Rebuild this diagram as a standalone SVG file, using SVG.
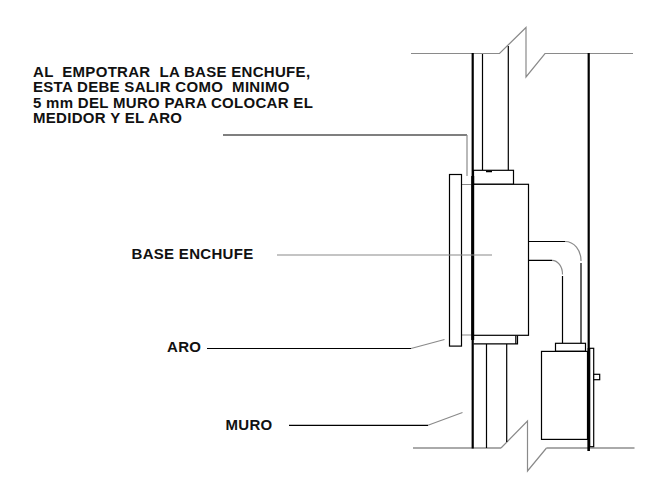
<svg xmlns="http://www.w3.org/2000/svg" width="658" height="500" viewBox="0 0 658 500">
<style>
text{font-family:"Liberation Sans",Arial,sans-serif;font-weight:bold;font-size:15px;letter-spacing:.3px;fill:#111;white-space:pre}
.l{fill:none;stroke:#000;stroke-width:1.2}
.g{fill:none;stroke:#8a8a8a;stroke-width:1.2}
.h{fill:none;stroke:#aaa;stroke-width:2}
.w{fill:none;stroke:#000;stroke-width:2.2}
.t{fill:none;stroke:#000;stroke-width:3}
.b{fill:#fff;stroke:#000;stroke-width:1.2}
</style>
<rect width="658" height="500" fill="#fff"/>
<g id="muro">
<path class="g" d="M411 53.5H499.5L526 27.5V77L545 53.5H633"/>
<path class="h" d="M413 448H501"/>
<path class="h" d="M546.5 448H634.5"/>
<path class="g" d="M501 448L527.5 421V471L546.5 448"/>
<path class="w" d="M472.7 53V448.5M588.7 53V451"/>
<path class="l" d="M482.5 54V170M508.3 46V170M486.5 344V448M506.7 344V442"/>
</g>
<g id="base-enchufe">
<path class="g" d="M461.5 184.5H473M461.5 335H473"/>
<rect class="b" x="473.5" y="170.3" width="40" height="14"/>
<path class="t" d="M486 171.5H492" style="stroke-width:1.5"/>
<path class="l" d="M473.5 343.8H517.5V335.5M515.8 335.5V343.8"/>
<rect class="b" x="472.5" y="184.3" width="56" height="151"/>
<path class="t" d="M472.7 176V340"/>
</g>
<g id="aro"><rect class="b" x="449.5" y="174.5" width="12" height="171.6"/></g>
<g id="tuberia">
<path class="l" d="M528.5 241.5H565"/>
<path class="g" d="M565 241.5A16 19 0 0 1 581 261"/>
<path class="l" d="M581 263V343M528.5 260.3H552"/>
<path class="g" d="M552 260.3A10.5 14 0 0 1 562.5 274.5"/>
<path class="l" d="M562.5 276V343"/>
</g>
<g id="medidor">
<rect class="b" x="555.5" y="343.3" width="30" height="8"/>
<rect class="b" x="541.5" y="351.4" width="46" height="88"/>
<rect class="b" x="589.7" y="348.3" width="4" height="98.4"/>
<rect class="b" x="593.7" y="374.3" width="6" height="5.4"/>
<path class="w" d="M588.7 348V451"/>
</g>
<g id="conectores">
<path class="l" d="M223 135H467"/>
<path class="g" d="M467 135V176"/>
<path class="g" d="M277 255H492"/>
<path class="l" d="M207 348.5H411"/>
<path class="g" d="M411 348.5L444.5 339.5"/>
<path class="l" d="M289 425.3H428"/>
<path class="g" d="M428 425.3L462.5 412.5"/>
</g>
<g id="textos">
<text x="33" y="76.5">AL  EMPOTRAR  LA BASE ENCHUFE,</text>
<text x="33" y="92">ESTA DEBE SALIR COMO  MINIMO</text>
<text x="33" y="107.5">5 mm DEL MURO PARA COLOCAR EL</text>
<text x="33" y="123">MEDIDOR Y EL ARO</text>
<text x="131.5" y="259">BASE ENCHUFE</text>
<text x="167" y="352">ARO</text>
<text x="225.5" y="429.5">MURO</text>
</g>
</svg>
